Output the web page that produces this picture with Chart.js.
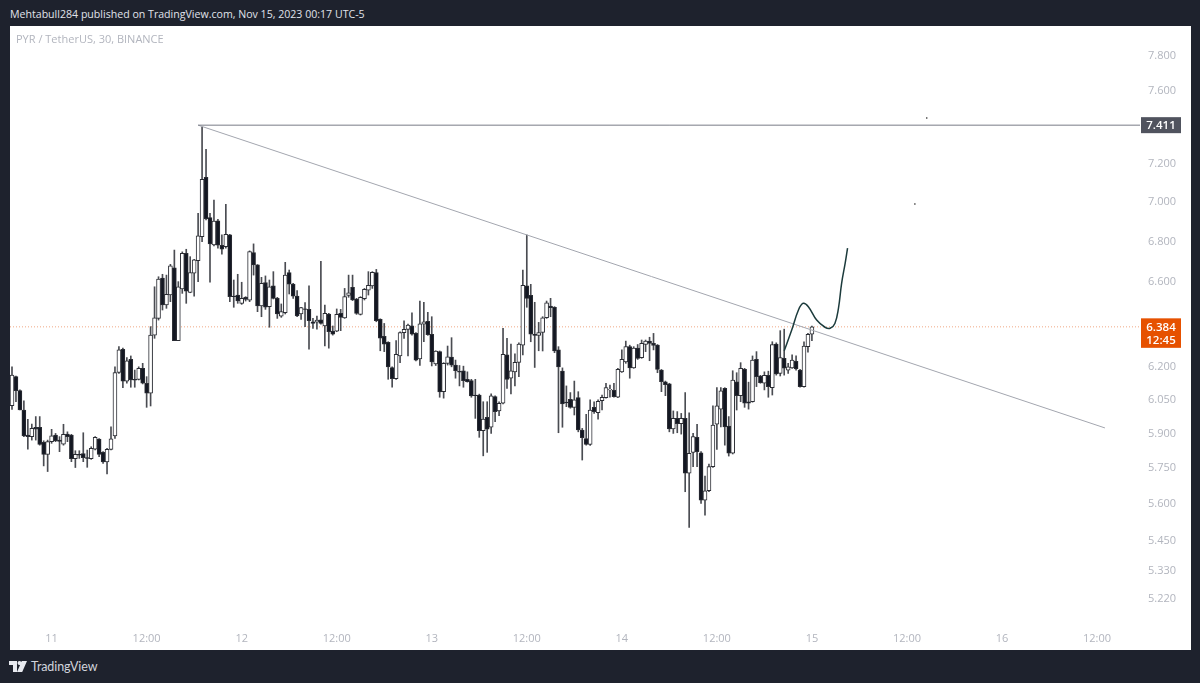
<!DOCTYPE html>
<html>
<head>
<meta charset="utf-8">
<script src="https://cdn.jsdelivr.net/npm/chart.js@4"></script>
<style>
    html, body { margin: 0; padding: 0; width: 1200px; height: 683px; overflow: hidden; background: #1e222d; }
    #pane { position: absolute; left: 10px; top: 26px; width: 1181px; height: 624px; background: #fff; }
    #chart { display: block; }
    .txt { position: absolute; white-space: nowrap; font-family: "Open Sans", sans-serif; }
    #head { left: 10px; top: 6px; font-size: 10.6px; line-height: 17px; color: #e0e3eb; }
    #sym { left: 16px; top: 31px; font-size: 11px; line-height: 16px; color: #b2b5be; }
    #brand { left: 31px; top: 657px; font-family: Lato, sans-serif; font-size: 12.5px; letter-spacing: -0.1px; line-height: 20px; color: #d1d4dc; }
    #logo { position: absolute; left: 9px; top: 660px; }
</style>
</head>
<body>
<div id="pane"><canvas id="chart" width="1180" height="624"></canvas></div>
<div class="txt" id="head">Mehtabull284 published on TradingView.com, Nov 15, 2023 00:17 UTC-5</div>
<div class="txt" id="sym">PYR / TetherUS, 30, BINANCE</div>
<svg id="logo" width="18" height="13" viewBox="0 0 18 13"><path fill="#e8eaf0" d="M0 1h8v11H4V5H0zM10.5 1a2 2 0 1 1 0 4 2 2 0 0 1 0-4zM12.8 1H18l-4.8 11H8z"/></svg>
<div class="txt" id="brand">TradingView</div>
<script>
// harga candle 30 menit
var opens = [
    6.022,6.153,6.090,6.003,5.893,5.886,5.927,5.927,5.861,5.809,
    5.864,5.893,5.871,5.853,5.897,5.893,5.791,5.809,5.813,5.795,
    5.791,5.832,5.875,5.818,5.777,5.831,5.889,6.172,6.279,6.133,
    6.232,6.141,6.141,6.191,6.123,6.078,6.345,6.424,6.619,6.488,
    6.536,6.669,6.319,6.565,6.741,6.549,6.642,6.704,6.824,7.130,
    6.921,6.783,6.905,6.781,6.774,6.833,6.531,6.536,6.496,6.525,
    6.511,6.745,6.683,6.483,6.596,6.480,6.581,6.520,6.435,6.451,
    6.645,6.589,6.531,6.445,6.470,6.467,6.408,6.406,6.417,6.388,
    6.445,6.364,6.363,6.448,6.426,6.534,6.573,6.517,6.443,6.518,
    6.560,6.580,6.645,6.419,6.339,6.311,6.195,6.144,6.248,6.357,
    6.372,6.389,6.353,6.234,6.397,6.410,6.349,6.211,6.268,6.085,
    6.214,6.243,6.206,6.177,6.180,6.141,6.135,6.070,6.070,5.912,
    5.971,5.927,6.063,5.999,6.033,6.253,6.146,6.175,6.218,6.298,
    6.581,6.534,6.349,6.344,6.358,6.427,6.483,6.477,6.276,6.178,
    6.038,6.051,6.015,6.058,5.915,5.878,5.852,6.015,5.991,6.045,
    6.058,6.093,6.091,6.060,6.175,6.221,6.291,6.193,6.284,6.240,
    6.301,6.317,6.306,6.298,6.183,6.130,6.120,5.920,5.966,5.943,
    5.966,5.729,5.818,5.883,5.816,5.616,5.655,5.757,5.940,6.007,
    6.100,5.932,5.814,6.130,6.067,6.186,6.039,6.040,6.232,6.156,
    6.123,6.159,6.103,6.303,6.168,6.237,6.183,6.193,6.223,6.183,
    6.108,6.291,6.350
];
var highs = [
    6.198,6.156,6.093,6.044,5.962,5.941,5.974,5.974,5.868,5.871,
    5.918,5.900,5.886,5.940,5.907,5.896,5.825,5.825,5.903,5.828,
    5.842,5.886,5.878,5.821,5.835,5.929,6.198,6.291,6.284,6.241,
    6.248,6.183,6.198,6.214,6.153,6.385,6.576,6.625,6.637,6.633,
    6.686,6.757,6.601,6.748,6.761,6.724,6.711,6.943,7.400,7.280,
    6.943,7.012,6.912,6.833,6.989,6.836,6.609,6.637,6.598,6.528,
    6.753,6.788,6.685,6.622,6.629,6.609,6.650,6.525,6.493,6.696,
    6.658,6.593,6.557,6.477,6.499,6.581,6.424,6.435,6.701,6.488,
    6.448,6.388,6.469,6.467,6.568,6.633,6.633,6.520,6.528,6.568,
    6.650,6.650,6.661,6.422,6.400,6.314,6.198,6.319,6.361,6.413,
    6.397,6.451,6.357,6.507,6.501,6.453,6.432,6.272,6.271,6.217,
    6.294,6.333,6.229,6.204,6.201,6.175,6.141,6.141,6.074,6.040,
    6.040,6.075,6.066,6.040,6.377,6.330,6.303,6.258,6.309,6.658,
    6.833,6.588,6.501,6.405,6.432,6.507,6.520,6.480,6.291,6.193,
    6.111,6.081,6.133,6.085,5.922,5.984,6.048,6.040,6.048,6.070,
    6.123,6.115,6.123,6.191,6.276,6.317,6.298,6.291,6.301,6.322,
    6.322,6.335,6.353,6.301,6.186,6.133,6.123,5.999,5.996,5.988,
    6.081,5.991,5.900,5.940,5.821,5.717,5.768,6.022,6.103,6.103,
    6.103,5.974,6.180,6.171,6.217,6.191,6.128,6.248,6.268,6.159,
    6.175,6.178,6.314,6.309,6.366,6.373,6.214,6.253,6.248,6.186,
    6.314,6.353,6.388
];
var lows = [
    6.006,6.040,6.003,5.886,5.832,5.871,5.871,5.849,5.760,5.736,
    5.857,5.864,5.821,5.849,5.864,5.778,5.753,5.792,5.778,5.754,
    5.788,5.828,5.799,5.771,5.726,5.828,5.878,6.168,6.103,6.123,
    6.105,6.105,6.138,6.120,6.015,6.021,6.330,6.416,6.464,6.472,
    6.504,6.319,6.319,6.544,6.496,6.547,6.531,6.601,6.799,6.909,
    6.598,6.778,6.766,6.736,6.766,6.504,6.477,6.496,6.491,6.507,
    6.504,6.633,6.456,6.432,6.467,6.382,6.517,6.424,6.429,6.445,
    6.541,6.520,6.432,6.419,6.385,6.279,6.377,6.373,6.397,6.294,
    6.284,6.345,6.361,6.366,6.424,6.525,6.509,6.443,6.440,6.512,
    6.536,6.568,6.408,6.272,6.268,6.141,6.105,6.141,6.217,6.330,
    6.248,6.345,6.225,6.204,6.314,6.344,6.202,6.204,6.060,6.056,
    6.206,6.198,6.146,6.111,6.105,6.128,6.060,5.966,5.883,5.803,
    5.818,5.900,5.952,5.978,6.030,6.100,6.075,6.111,6.153,6.253,
    6.477,6.314,6.195,6.272,6.271,6.424,6.432,6.263,5.903,5.927,
    6.018,6.011,5.981,5.907,5.785,5.849,5.848,5.988,5.963,6.003,
    6.056,6.060,6.060,6.058,6.172,6.214,6.146,6.191,6.232,6.237,
    6.268,6.226,6.276,6.171,6.085,6.067,5.907,5.900,5.903,5.897,
    5.651,5.504,5.757,5.757,5.602,5.554,5.651,5.754,5.831,5.929,
    5.849,5.802,5.811,6.003,6.040,6.015,6.007,6.038,6.108,6.123,
    6.093,6.060,6.070,6.160,6.156,6.160,6.168,6.191,6.183,6.105,
    6.105,6.265,6.319
];
var closes = [
    6.160,6.090,6.003,5.889,5.886,5.922,5.919,5.852,5.809,5.864,
    5.890,5.868,5.865,5.896,5.886,5.791,5.809,5.806,5.795,5.792,
    5.835,5.883,5.809,5.777,5.831,5.877,6.172,6.276,6.133,6.226,
    6.138,6.137,6.191,6.123,6.078,6.345,6.427,6.614,6.488,6.539,
    6.679,6.319,6.576,6.741,6.555,6.645,6.708,6.829,7.120,6.916,
    6.788,6.904,6.781,6.762,6.836,6.528,6.528,6.507,6.520,6.515,
    6.749,6.683,6.483,6.593,6.477,6.576,6.520,6.445,6.456,6.633,
    6.589,6.531,6.436,6.475,6.467,6.413,6.400,6.416,6.400,6.448,
    6.361,6.350,6.443,6.429,6.528,6.547,6.512,6.448,6.525,6.563,
    6.583,6.647,6.413,6.331,6.303,6.198,6.144,6.256,6.357,6.372,
    6.392,6.350,6.229,6.398,6.408,6.347,6.221,6.270,6.084,6.214,
    6.244,6.206,6.180,6.174,6.135,6.130,6.066,6.067,5.912,5.963,
    5.919,6.066,5.996,6.033,6.256,6.141,6.180,6.218,6.303,6.583,
    6.520,6.349,6.344,6.357,6.427,6.498,6.475,6.271,6.198,6.030,
    6.035,6.015,6.048,5.915,5.881,5.852,6.003,5.996,6.042,6.060,
    6.103,6.096,6.063,6.186,6.232,6.291,6.193,6.284,6.237,6.306,
    6.317,6.306,6.297,6.186,6.130,6.117,5.920,5.966,5.943,5.966,
    5.729,5.814,5.886,5.821,5.616,5.655,5.757,5.937,6.022,6.089,
    5.929,5.814,6.138,6.067,6.191,6.033,6.033,6.229,6.153,6.126,
    6.159,6.108,6.301,6.165,6.241,6.192,6.198,6.229,6.188,6.108,
    6.294,6.349,6.384
];

// sumbu
var priceTicks = [7.8, 7.6, 7.2, 7.0, 6.8, 6.6, 6.2, 6.05, 5.9, 5.75, 5.6, 5.45, 5.33, 5.22];
var timeTicks = [10, 34, 58, 82, 106, 130, 154, 178, 202, 226, 250, 274];
var timeLabels = ["11", "12:00", "12", "12:00", "13", "12:00", "14", "12:00", "15", "12:00", "16", "12:00"];
var priceMin = 5.1205, priceMax = 7.975;
var indexMin = -0.505, indexMax = 284.85;

// garis gambar
var resistance = 7.411;
var lastPrice = 6.384;
var lastCountdown = "12:45";
var trendIndex = [47, 276];
var trendPrice = [7.411, 5.924];
var curveIndex = [195.0, 196.9, 198.6, 199.8, 201.1, 203.2, 205.3, 206.6, 207.8, 208.7, 209.5, 210.4, 211.0];
var curvePrice = [6.272, 6.369, 6.464, 6.496, 6.480, 6.416, 6.382, 6.377, 6.400, 6.472, 6.593, 6.692, 6.767];
var dotIndex = [231, 228];
var dotPrice = [7.45, 6.991];

function toPoints(xs, ys) {
    return xs.map(function(x, i) { return { x: x, y: ys[i] }; });
}

var candleColor = opens.map(function(o, i) { return closes[i] >= o ? "#ffffff" : "#131722"; });

// label harga di sumbu kanan
var priceTags = {
    id: "priceTags",
    afterDraw: function(chart) {
        var ctx = chart.ctx;
        var y = chart.scales.y;
        var left = chart.chartArea.right + 1;
        ctx.save();
        ctx.textAlign = "center";
        ctx.textBaseline = "middle";
        ctx.font = "600 11.5px 'Open Sans'";

        var py = y.getPixelForValue(resistance);
        ctx.fillStyle = "#50535e";
        ctx.fillRect(left, py - 8, 40, 16);
        ctx.fillStyle = "#ffffff";
        ctx.fillText(resistance.toFixed(3), left + 20, py + 0.5);

        py = y.getPixelForValue(lastPrice);
        ctx.fillStyle = "#e65100";
        ctx.fillRect(left, py - 8.5, 40, 29.5);
        ctx.fillStyle = "#ffffff";
        ctx.fillText(lastPrice.toFixed(3), left + 20, py + 0.5);
        ctx.fillText(lastCountdown, left + 20, py + 13.5);
        ctx.restore();
    }
};

new Chart(document.getElementById("chart"), {
    type: "bar",
    plugins: [priceTags],
    data: {
        datasets: [{
            type: "line",
            data: [{ x: indexMin, y: lastPrice }, { x: indexMax, y: lastPrice }],
            borderColor: "rgba(230, 110, 50, 0.6)",
            borderWidth: 1,
            borderDash: [1, 2],
            pointRadius: 0,
            order: 5
        }, {
            label: "wick",
            data: toPoints(opens.map(function(o, i) { return i; }), highs.map(function(h, i) { return [lows[i], h]; })),
            backgroundColor: "#4a4c52",
            barThickness: 1,
            grouped: false,
            order: 4
        }, {
            label: "body",
            data: toPoints(opens.map(function(o, i) { return i; }), opens.map(function(o, i) { return [o, closes[i]]; })),
            backgroundColor: candleColor,
            borderColor: "#2a2c33",
            borderWidth: 1,
            borderSkipped: false,
            barThickness: 4,
            grouped: false,
            order: 3
        }, {
            type: "line",
            data: [{ x: trendIndex[0], y: resistance }, { x: indexMax, y: resistance }],
            borderColor: "#787b86",
            borderWidth: 1,
            pointRadius: 0,
            order: 2
        }, {
            type: "line",
            data: toPoints(trendIndex, trendPrice),
            borderColor: "#a3a6af",
            borderWidth: 1,
            pointRadius: 0,
            order: 2
        }, {
            type: "line",
            data: toPoints(curveIndex, curvePrice),
            borderColor: "#1c3b3c",
            borderWidth: 1.5,
            tension: 0.4,
            pointRadius: 0,
            order: 1
        }, {
            type: "line",
            data: toPoints(dotIndex, dotPrice),
            showLine: false,
            pointRadius: 0.8,
            pointBackgroundColor: "#222222",
            pointBorderWidth: 0,
            order: 1
        }]
    },
    options: {
        responsive: false,
        animation: false,
        layout: { padding: 0, autoPadding: false },
        plugins: {
            legend: { display: false },
            tooltip: { enabled: false }
        },
        scales: {
            x: {
                type: "linear",
                offset: false,
                min: indexMin,
                max: indexMax,
                afterFit: function(scale) {
                    scale.height = 25;
                    scale.paddingLeft = 0;
                    scale.paddingRight = 0;
                },
                afterBuildTicks: function(scale) {
                    scale.ticks = timeTicks.map(function(v) { return { value: v }; });
                },
                grid: { display: false, drawTicks: false },
                border: { display: false },
                ticks: {
                    autoSkip: false,
                    maxRotation: 0,
                    padding: 7,
                    color: "#b2b5be",
                    font: { size: 11, family: "Open Sans" },
                    callback: function(value) { return timeLabels[timeTicks.indexOf(value)]; }
                }
            },
            y: {
                type: "logarithmic",
                position: "right",
                bounds: "data",
                min: priceMin,
                max: priceMax,
                afterFit: function(scale) {
                    scale.width = 50;
                    scale.paddingTop = 0;
                    scale.paddingBottom = 0;
                },
                afterBuildTicks: function(scale) {
                    scale.ticks = priceTicks.map(function(v) { return { value: v }; });
                },
                grid: { display: false, drawTicks: false },
                border: { display: false },
                ticks: {
                    autoSkip: false,
                    padding: 8,
                    color: "#b2b5be",
                    font: { size: 11, family: "Open Sans" },
                    callback: function(value) { return Number(value).toFixed(3); }
                }
            }
        }
    }
});
</script>
</body>
</html>
